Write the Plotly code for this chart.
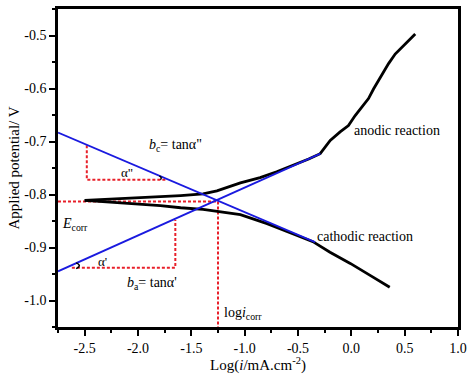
import plotly.graph_objects as go

# Tafel curve data (log current density, potential)
anodic_x = [-2.5, -2.2, -1.9, -1.6, -1.39, -1.26, -1.04, -0.855, -0.7, -0.545, -0.4, -0.292,
            -0.198, -0.105, -0.027, 0.036, 0.099, 0.161, 0.208, 0.255, 0.302, 0.349, 0.411,
            0.474, 0.536, 0.599]
anodic_y = [-0.811, -0.808, -0.806, -0.802, -0.799, -0.793, -0.778, -0.768, -0.757, -0.745,
            -0.733, -0.723, -0.698, -0.682, -0.670, -0.651, -0.635, -0.619, -0.601, -0.585,
            -0.569, -0.553, -0.535, -0.522, -0.509, -0.497]
cathodic_x = [-2.5, -2.2, -1.79, -1.6, -1.39, -1.04, -0.79, -0.55, -0.36, -0.2, -0.01, 0.18, 0.36]
cathodic_y = [-0.811, -0.815, -0.821, -0.825, -0.828, -0.838, -0.855, -0.874, -0.889,
              -0.909, -0.930, -0.953, -0.975]

# Tafel extrapolation lines
bc_line_x = [-2.75, -0.34]
bc_line_y = [-0.683, -0.890]
ba_line_x = [-2.75, -0.29]
ba_line_y = [-0.945, -0.723]

# corrosion point
log_icorr = -1.25
e_corr = -0.813

# red construction triangles
tri_upper_x = [-2.48, -2.48, -1.73]
tri_upper_y = [-0.707, -0.772, -0.772]
tri_lower_x = [-2.62, -1.65, -1.65]
tri_lower_y = [-0.938, -0.938, -0.848]

x_ticks = [-2.5, -2.0, -1.5, -1.0, -0.5, 0.0, 0.5, 1.0]
y_ticks = [-1.0, -0.9, -0.8, -0.7, -0.6, -0.5]

FONT = "Liberation Serif"
RED = "#e8202a"
BLUE = "#1a1adf"

fig = go.Figure()

red_line = dict(color=RED, width=2, dash="3px,2px")

fig.add_trace(go.Scatter(x=[-2.75, log_icorr], y=[e_corr, e_corr], mode="lines", line=red_line))
fig.add_trace(go.Scatter(x=[log_icorr, log_icorr], y=[e_corr, -1.05], mode="lines", line=red_line))
fig.add_trace(go.Scatter(x=tri_upper_x, y=tri_upper_y, mode="lines", line=red_line))
fig.add_trace(go.Scatter(x=tri_lower_x, y=tri_lower_y, mode="lines", line=red_line))

fig.add_trace(go.Scatter(x=anodic_x, y=anodic_y, mode="lines",
                         line=dict(color="black", width=2.8)))
fig.add_trace(go.Scatter(x=cathodic_x, y=cathodic_y, mode="lines",
                         line=dict(color="black", width=2.8)))

fig.add_trace(go.Scatter(x=bc_line_x, y=bc_line_y, mode="lines", line=dict(color=BLUE, width=1.8)))
fig.add_trace(go.Scatter(x=ba_line_x, y=ba_line_y, mode="lines", line=dict(color=BLUE, width=1.8)))

# angle arcs
fig.add_shape(type="path", path="M -1.80,-0.765 Q -1.77,-0.768 -1.79,-0.772",
              line=dict(color="black", width=1.5))
fig.add_shape(type="path", path="M -2.58,-0.929 Q -2.52,-0.934 -2.58,-0.940",
              line=dict(color="black", width=1.5))

tf = dict(family=FONT, size=14, color="black")
annotations = [
    dict(x=-1.65, y=-0.708, text="<i>b</i><sub>c</sub>= tanα\"", xanchor="center"),
    dict(x=-2.10, y=-0.759, text="α\"", xanchor="center", font=dict(family=FONT, size=13, color="black")),
    dict(x=-2.73, y=-0.857, text="<i>E</i><sub>corr</sub>", xanchor="left"),
    dict(x=-2.33, y=-0.926, text="α'", xanchor="center", font=dict(family=FONT, size=13, color="black")),
    dict(x=-1.87, y=-0.968, text="<i>b</i><sub>a</sub>= tanα'", xanchor="center"),
    dict(x=0.43, y=-0.679, text="anodic reaction", xanchor="center"),
    dict(x=0.13, y=-0.879, text="cathodic reaction", xanchor="center"),
    dict(x=-1.21, y=-1.025, text="log<i>i</i><sub>corr</sub>", xanchor="left"),
]
for a in annotations:
    a.setdefault("font", tf)
    fig.add_annotation(showarrow=False, xref="x", yref="y", **a)

axis_common = dict(showgrid=False, zeroline=False, showline=True, linecolor="black",
                   linewidth=2.5, mirror=True, ticks="outside", ticklen=6, tickwidth=2,
                   tickcolor="black", automargin=False,
                   tickfont=dict(family=FONT, size=14, color="black"),
                   minor=dict(ticks="outside", ticklen=3, tickwidth=2, tickcolor="black"))

fig.update_xaxes(range=[-2.75, 1.0], tickvals=x_ticks,
                 ticktext=[f"{v:.1f}" for v in x_ticks],
                 title=dict(text="Log(<i>i</i>/mA.cm<sup>-2</sup>)",
                            font=dict(family=FONT, size=15, color="black"), standoff=2),
                 **axis_common)
fig.update_xaxes(minor_dtick=0.25)
fig.update_yaxes(range=[-1.05, -0.45], tickvals=y_ticks,
                 ticktext=[f"{v:.1f}" for v in y_ticks],
                 title=dict(text="Applied potential/ V",
                            font=dict(family=FONT, size=15, color="black"), standoff=2),
                 **axis_common)
fig.update_yaxes(minor_dtick=0.05)

fig.update_layout(width=474, height=374, showlegend=False,
                  margin=dict(l=58, r=16, t=9, b=47),
                  font=dict(family=FONT, size=14, color="black"),
                  plot_bgcolor="white", paper_bgcolor="white")

fig.write_html("out.html", config={"displayModeBar": False},
               post_script="document.body.style.margin='0';document.body.style.overflow='hidden';")
